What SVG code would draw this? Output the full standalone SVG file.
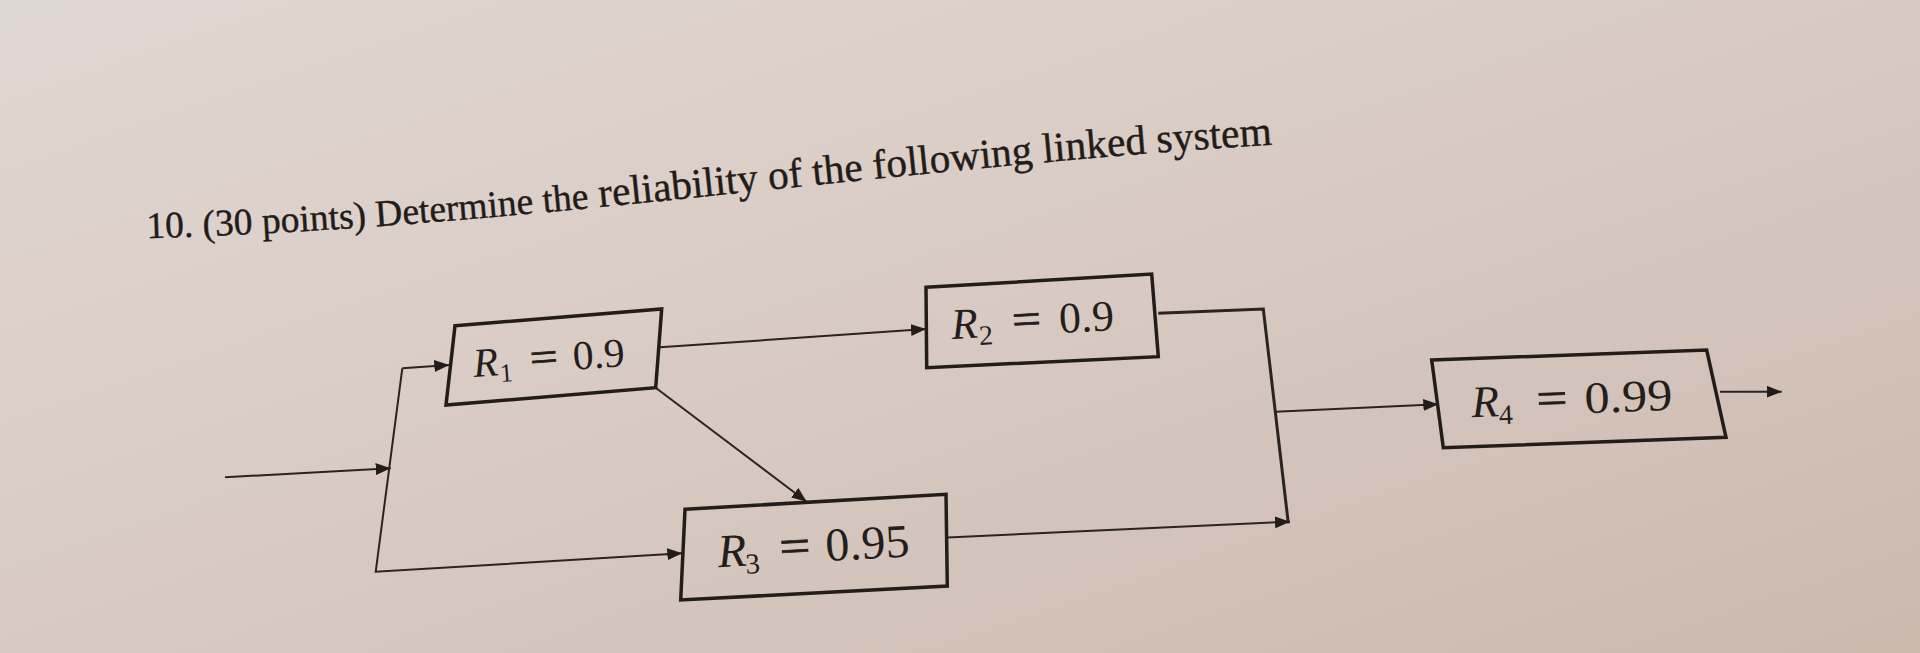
<svg xmlns="http://www.w3.org/2000/svg" width="1920" height="653" viewBox="0 0 1920 653">
<defs>
<linearGradient id="paper" x1="0" y1="0" x2="1" y2="1">
<stop offset="0" stop-color="#e0d8d3"/>
<stop offset="0.5" stop-color="#d8cac2"/>
<stop offset="1" stop-color="#cbb9ae"/>
</linearGradient>
<marker id="arr" markerUnits="userSpaceOnUse" markerWidth="16" markerHeight="12" refX="15" refY="6" orient="auto">
<path d="M0,0 L15,6 L0,12 z" fill="#231d1a"/>
</marker>
<path id="titlePath" d="M146.7,238.3 C520,228 890,168 1268.3,145 l120,-7"/>
<style>
.box{fill:none;stroke:#231d1a;stroke-width:3.5;stroke-linejoin:miter}
.ln{fill:none;stroke:#2a2320;stroke-width:2}
.thick{stroke-width:3}
.lbl{font-family:"Liberation Serif","Times New Roman",serif;fill:#241e1b}
.it{font-style:italic}
.eq{stroke:#241e1b;stroke-width:0.8}
.title{font-family:"Liberation Serif","Times New Roman",serif;fill:#221c19;stroke:#221c19;stroke-width:0.4}
</style>
</defs>
<rect width="1920" height="653" fill="url(#paper)"/>
<g id="title">
<text class="title"><textPath href="#titlePath"><tspan font-size="37.6">10. (30 points) Determine the</tspan><tspan font-size="41.2"> reliability of the following</tspan><tspan font-size="41.5"> linked system</tspan></textPath></text>
</g>
<g id="connectors">
<path class="ln" d="M225,477.3 L390.7,468.3" marker-end="url(#arr)"/>
<path class="ln" d="M402.3,368.3 L449.3,365" marker-end="url(#arr)"/>
<path class="ln" d="M402.3,368.3 L375.7,571.7 L682.3,553.3" marker-end="url(#arr)"/>
<path class="ln" d="M660,347.3 L926,329" marker-end="url(#arr)"/>
<path class="ln" d="M656,388 L806.7,501.7" marker-end="url(#arr)"/>
<path class="ln thick" d="M1158.3,313.3 L1263.3,309 L1288.3,523.3"/>
<path class="ln" d="M947.5,537.4 L1290,521.7" marker-end="url(#arr)"/>
<path class="ln" d="M1275.5,411.7 L1438.3,404.3" marker-end="url(#arr)"/>
<path class="ln" d="M1720,391.7 L1781.7,391.7" marker-end="url(#arr)"/>
</g>
<g id="node-r1">
<polygon class="box" points="455,325.7 661.7,309 655.7,387.7 446,405"/>
<text class="lbl" font-size="41" transform="translate(474,377) rotate(-4.2)"><tspan class="it" x="0" y="0">R</tspan><tspan x="26" y="7" font-size="26">1</tspan><tspan class="eq" x="57" y="-1" textLength="28" lengthAdjust="spacingAndGlyphs">=</tspan><tspan x="100" y="0" textLength="52" lengthAdjust="spacingAndGlyphs">0.9</tspan></text>
</g>
<g id="node-r2">
<polygon class="box" points="926,287.3 1151.7,274 1158.3,356.7 926.7,367.7"/>
<text class="lbl" font-size="43.5" transform="translate(952,339) rotate(-3.2)"><tspan class="it" x="0" y="0">R</tspan><tspan x="27" y="7.5" font-size="28">2</tspan><tspan class="eq" x="61" y="-1" textLength="29" lengthAdjust="spacingAndGlyphs">=</tspan><tspan x="108" y="0" textLength="55" lengthAdjust="spacingAndGlyphs">0.9</tspan></text>
</g>
<g id="node-r3">
<polygon class="box" points="685,509.3 946,494.3 947.3,586 680.7,600"/>
<text class="lbl" font-size="47" transform="translate(718.5,567.3) rotate(-3.3)"><tspan class="it" x="0" y="0">R</tspan><tspan x="27" y="8" font-size="29">3</tspan><tspan class="eq" x="62" y="-1" textLength="31" lengthAdjust="spacingAndGlyphs">=</tspan><tspan x="108" y="0" textLength="84" lengthAdjust="spacingAndGlyphs">0.95</tspan></text>
</g>
<g id="node-r4">
<polygon class="box" points="1431.7,360 1706.7,350 1726,437.3 1443.3,447.7"/>
<text class="lbl" font-size="45" transform="translate(1472,417.3) rotate(-2.1)"><tspan class="it" x="0" y="0">R</tspan><tspan x="27" y="8" font-size="28">4</tspan><tspan class="eq" x="65" y="-1" textLength="31" lengthAdjust="spacingAndGlyphs">=</tspan><tspan x="113" y="0" textLength="88" lengthAdjust="spacingAndGlyphs">0.99</tspan></text>
</g>
</svg>
